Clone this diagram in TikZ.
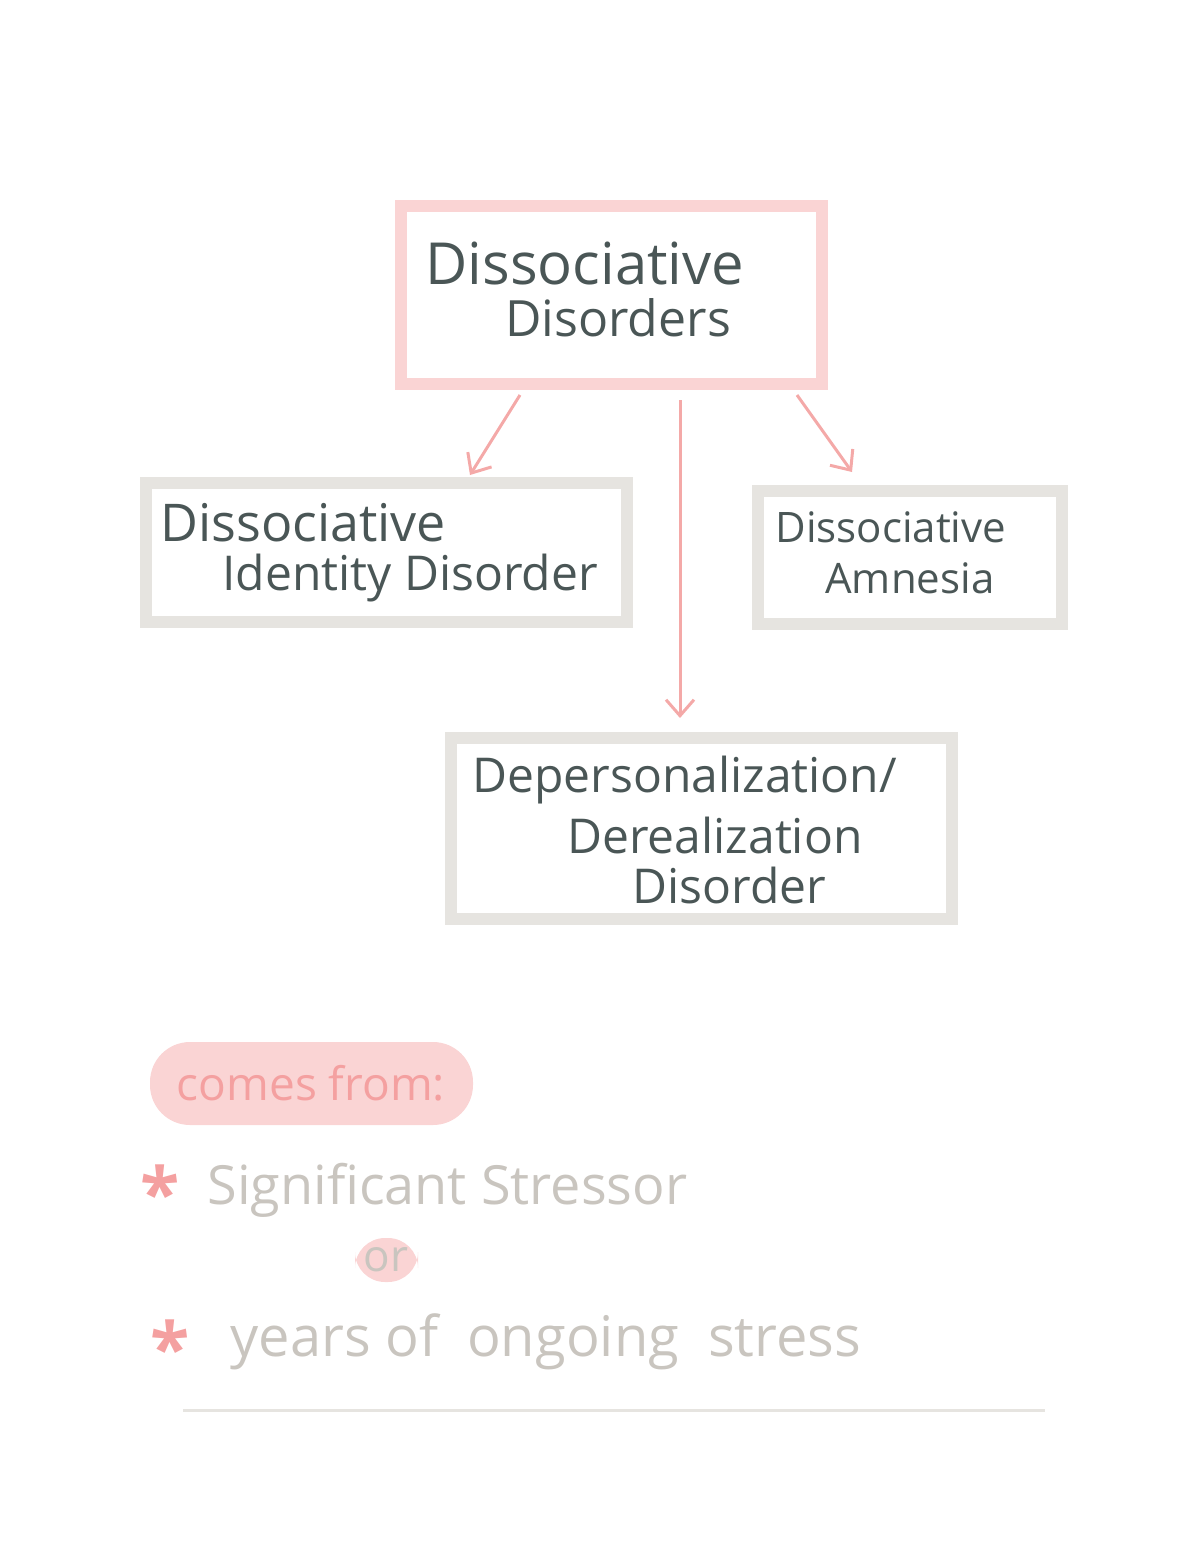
\documentclass[tikz,border=0pt]{standalone}
\usepackage{fontspec}
\setmainfont{Open Sans}
\usetikzlibrary{arrows.meta}
\definecolor{pinkb}{HTML}{FAD4D4}
\definecolor{grayb}{HTML}{E6E4E0}
\definecolor{ink}{HTML}{4A5656}
\definecolor{arr}{HTML}{F4A9A8}
\definecolor{lt}{HTML}{C9C5BF}
\definecolor{pt}{HTML}{F4A0A0}
\tikzset{
 box/.style={draw=grayb,line width=6pt},
 pbox/.style={draw=pinkb,line width=6pt},
 lab/.style={text=ink,anchor=west,inner sep=0pt,font=\fontsize{24}{26}\selectfont},
 con/.style={draw=arr,line width=1.5pt,-{Straight Barb[length=8pt,width=14pt]}},
 note/.style={text=lt,anchor=west,inner sep=0pt,font=\fontsize{27}{28}\selectfont},
 star/.style={text=pt,font=\fontsize{36}{36}\selectfont\bfseries}
}
\begin{document}
\begin{tikzpicture}[x=0.5pt,y=-0.5pt]
\useasboundingbox (0,0) rectangle (1200,1553);
\draw[pbox] (401,206) rectangle (822,384);
\node[lab,font=\fontsize{29}{30}\selectfont] (top1) at (425,263) {Dissociative};
\node[lab,font=\fontsize{25}{30}\selectfont] (top2) at (505,318) {Disorders};
\draw[box] (146,483) rectangle (627,622);
\node[lab,font=\fontsize{26}{26}\selectfont] (did1) at (160,523) {Dissociative};
\node[lab] (did2) at (222,578) {Identity Disorder};
\draw[box] (758,491) rectangle (1062,624);
\node[lab,font=\fontsize{21}{24}\selectfont] (amn1) at (775,527) {Dissociative};
\node[lab,font=\fontsize{21}{24}\selectfont] (amn2) at (825,578) {Amnesia};
\draw[box] (451,738) rectangle (952,919);
\node[lab] (dpd1) at (472,780) {Depersonalization/};
\node[lab] (dpd2) at (567,835) {Derealization};
\node[lab] (dpd3) at (632,885) {Disorder};
\coordinate (a1s) at (520,395); \coordinate (a1e) at (470,475);
\coordinate (a2s) at (680,400); \coordinate (a2e) at (680,718);
\coordinate (a3s) at (797,395); \coordinate (a3e) at (852,472);
\draw[con] (a1s) -- (a1e);
\draw[con] (a2s) -- (a2e);
\draw[con] (a3s) -- (a3e);
\fill[pinkb,rounded corners=20pt] (150,1042) rectangle (473,1125);
\node[text=pt,inner sep=0pt,font=\fontsize{23}{28}\selectfont] (cf) at (311,1083) {comes from:};
\node[star] (s1) at (160,1192) {*};
\node[note] (t1) at (207,1190) {Significant Stressor};
\fill[pinkb,rounded corners=15pt] (355,1238) rectangle (418,1282);
\node[note,anchor=center,font=\fontsize{22}{24}\selectfont] (or) at (386,1260) {or};
\node[star] (s2) at (170,1347) {*};
\node[note,font=\fontsize{28}{30}\selectfont] (t2) at (230,1342) {years of\ \ ongoing\ \ stress};
\coordinate (l1) at (183,1410); \coordinate (l2) at (1045,1410);
\draw[grayb,line width=1.5pt] (l1) -- (l2);
\end{tikzpicture}
\end{document}
